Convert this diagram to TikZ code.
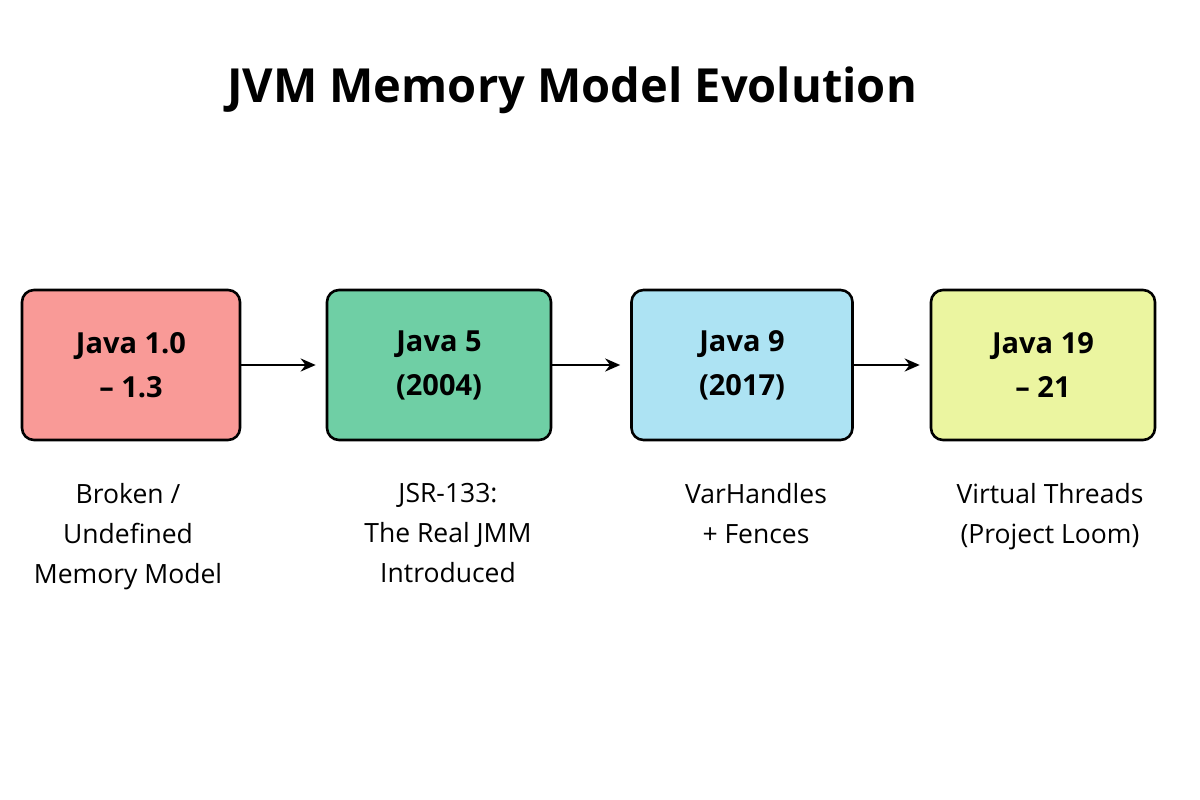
\documentclass[tikz,border=0pt]{standalone}
\usepackage{fontspec}
\setmainfont{Open Sans}
\usetikzlibrary{arrows.meta}
\definecolor{c1}{HTML}{F99A97}
\definecolor{c2}{HTML}{6FCFA5}
\definecolor{c3}{HTML}{ADE3F3}
\definecolor{c4}{HTML}{EBF5A0}
\begin{document}
\begin{tikzpicture}[x=1pt,y=-1pt,
  box/.style={draw=black,line width=2.6pt,rounded corners=12pt,minimum width=218pt,minimum height=150pt,align=center,font=\fontsize{29}{44}\selectfont\bfseries},
  lab/.style={align=center,font=\fontsize{26.5}{40}\selectfont,anchor=north},
  arr/.style={-{Stealth[length=15pt,width=13pt]},line width=2.6pt}]
\useasboundingbox (0,0) rectangle (1200,800);
\node[font=\fontsize{47}{52}\selectfont\bfseries] (t) at (572,90) {JVM Memory Model Evolution};
\node[box,fill=c1] (b1) at (131,365) {Java 1.0\\– 1.3};
\node[box,fill=c2,minimum width=224pt] (b2) at (439,365) {Java 5\\(2004)};
\node[box,fill=c3,minimum width=221pt] (b3) at (742,365) {Java 9\\(2017)};
\node[box,fill=c4,minimum width=224pt] (b4) at (1043,365) {Java 19\\– 21};
\draw[arr] (b1.east) -- ([xshift=-10pt]b2.west);
\draw[arr] (b2.east) -- ([xshift=-10pt]b3.west);
\draw[arr] (b3.east) -- ([xshift=-10pt]b4.west);
\node[lab] (l1) at (128,480) {Broken /\\Undefined\\Memory Model};
\node[lab] (l2) at (448,480) {JSR-133:\\The Real JMM\\Introduced};
\node[lab] (l3) at (756,480) {VarHandles\\+ Fences};
\node[lab] (l4) at (1050,480) {Virtual Threads\\(Project Loom)};
\end{tikzpicture}
\end{document}
